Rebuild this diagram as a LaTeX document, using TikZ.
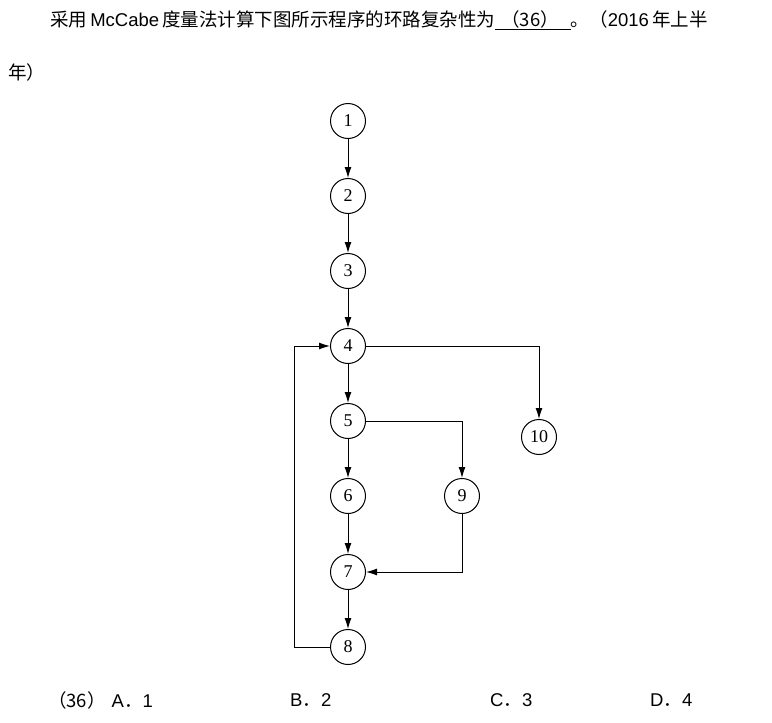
\documentclass[tikz,border=0pt]{standalone}
\usepackage{fontspec}
\setmainfont{Liberation Sans}
\newfontfamily\cjk{Noto Sans CJK SC}
\newfontfamily\ser{Liberation Serif}
\usetikzlibrary{arrows.meta}
\begin{document}
\begin{tikzpicture}[x=1pt,y=-1pt,
  cnode/.style={circle,draw,line width=1pt,minimum size=35pt,inner sep=0pt,font=\ser\fontsize{18}{18}\selectfont},
  edge/.style={line width=1pt,-{Latex[length=11pt,width=7pt]}},
  txt/.style={anchor=west,inner sep=0pt,font=\fontsize{18.5}{18.5}\selectfont}]
\useasboundingbox (0,0) rectangle (772,723);
\node[txt] (t1) at (50,20) {\cjk 采用\,{\rmfamily McCabe}\,度量法计算下图所示程序的环路复杂性为\underline{\hspace{6pt}（36）\hspace{12pt}}。（{\rmfamily 2016}\,年上半};
\node[txt] (t4) at (8,72) {\cjk 年）};
\node[cnode] (n1) at (348,121) {1};
\node[cnode] (n2) at (348,196) {2};
\node[cnode] (n3) at (348,271) {3};
\node[cnode] (n4) at (348,346) {4};
\node[cnode] (n5) at (348,421) {5};
\node[cnode] (n6) at (348,496) {6};
\node[cnode] (n7) at (348,572) {7};
\node[cnode] (n8) at (348,647) {8};
\node[cnode] (n9) at (462,496) {9};
\node[cnode] (n10) at (539,437) {10};
\draw[edge] (n1) -- (n2);
\draw[edge] (n2) -- (n3);
\draw[edge] (n3) -- (n4);
\draw[edge] (n4) -- (n5);
\draw[edge] (n5) -- (n6);
\draw[edge] (n6) -- (n7);
\draw[edge] (n7) -- (n8);
\draw[edge] (n4) -| (n10);
\draw[edge] (n5) -| (n9);
\draw[edge] (n9) |- (n7);
\draw[edge] (n8) -| (294,346) -- (n4);
\node[txt] (o1) at (48,700) {\cjk （36）\hspace{6pt}{\rmfamily A}．{\rmfamily 1}};
\node[txt] (o2) at (290,700) {\cjk {\rmfamily B}．{\rmfamily 2}};
\node[txt] (o3) at (490,700) {\cjk {\rmfamily C}．{\rmfamily 3}};
\node[txt] (o4) at (650,700) {\cjk {\rmfamily D}．{\rmfamily 4}};
\end{tikzpicture}
\end{document}
